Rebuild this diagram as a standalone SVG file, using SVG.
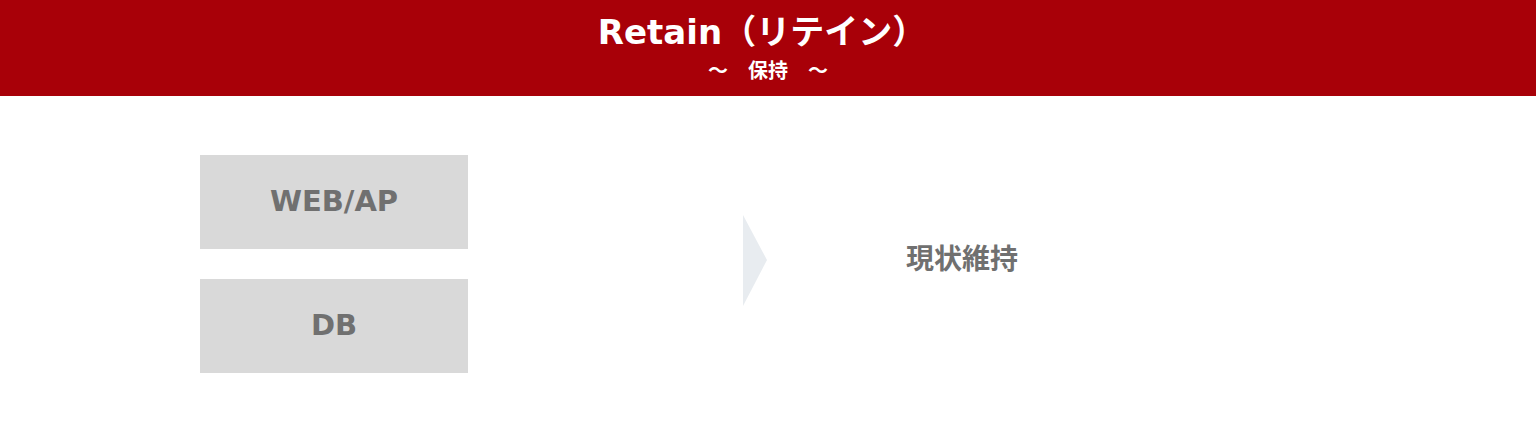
<svg xmlns="http://www.w3.org/2000/svg" width="1536" height="422" viewBox="0 0 1536 422">
<style>
.t{font-family:"DejaVu Sans","Noto Sans CJK JP",sans-serif;font-weight:bold;text-anchor:middle}
.j{font-family:"Noto Sans CJK JP",sans-serif;font-weight:bold;text-anchor:middle}
.box{fill:#D9D9D9}
.lbl{fill:#707070;font-size:29px}
</style>
<rect width="1536" height="422" fill="#FFFFFF"/>
<g id="header">
<rect x="0" y="0" width="1536" height="96" fill="#A80008"/>
<text class="t" x="762" y="44" font-size="34" fill="#FFFFFF">Retain<tspan font-family="Noto Sans CJK JP">（リテイン）</tspan></text>
<text class="j" x="768" y="78" font-size="20" fill="#FFFFFF">～　保持　～</text>
</g>
<g id="webap">
<rect class="box" x="200" y="155" width="268" height="94"/>
<text class="t lbl" x="334" y="211">WEB/AP</text>
</g>
<g id="db">
<rect class="box" x="200" y="279" width="268" height="94"/>
<text class="t lbl" x="334" y="335">DB</text>
</g>
<g id="connectors">
<polygon points="743,215 767,260 743,306" fill="#E8ECF0"/>
</g>
<g id="result">
<text class="j" x="962" y="269" font-size="28" fill="#707070">現状維持</text>
</g>
</svg>
